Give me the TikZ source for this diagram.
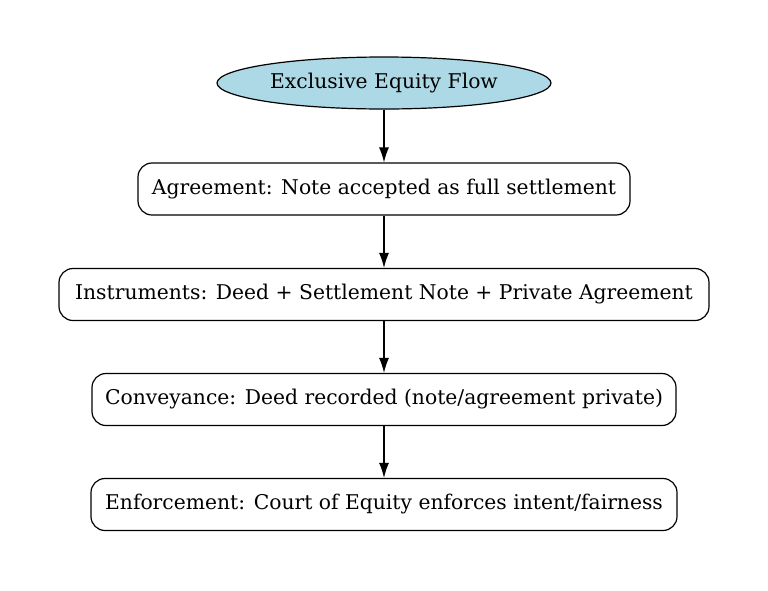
\documentclass[tikz,border=0pt]{standalone}
\usepackage{fontspec}
\setmainfont{DejaVu Serif}
\usetikzlibrary{shapes.geometric,arrows.meta}
\begin{document}
\begin{tikzpicture}[x=1pt,y=-1pt,
  box/.style={draw,rounded corners=14pt,line width=1.2pt,minimum height=52pt,inner sep=0pt,font=\fontsize{20.3}{24}\selectfont},
  arr/.style={-{Latex[length=15pt,width=10pt]},line width=1.2pt}]
\useasboundingbox (0,0) rectangle (768,590);
\node[ellipse,draw,fill={rgb,255:red,173;green,216;blue,230},line width=1.2pt,minimum width=334pt,minimum height=52pt,inner sep=0pt,font=\fontsize{20.3}{24}\selectfont] (a) at (384,83) {Exclusive Equity Flow};
\node[box,minimum width=492pt] (b) at (384,189) {Agreement: Note accepted as full settlement};
\node[box,minimum width=650pt] (c) at (384,294.5) {Instruments: Deed + Settlement Note + Private Agreement};
\node[box,minimum width=584pt] (d) at (384,399.5) {Conveyance: Deed recorded (note/agreement private)};
\node[box,minimum width=586pt] (e) at (384,504.5) {Enforcement: Court of Equity enforces intent/fairness};
\draw[arr] (a) -- (b);
\draw[arr] (b) -- (c);
\draw[arr] (c) -- (d);
\draw[arr] (d) -- (e);
\end{tikzpicture}
\end{document}
